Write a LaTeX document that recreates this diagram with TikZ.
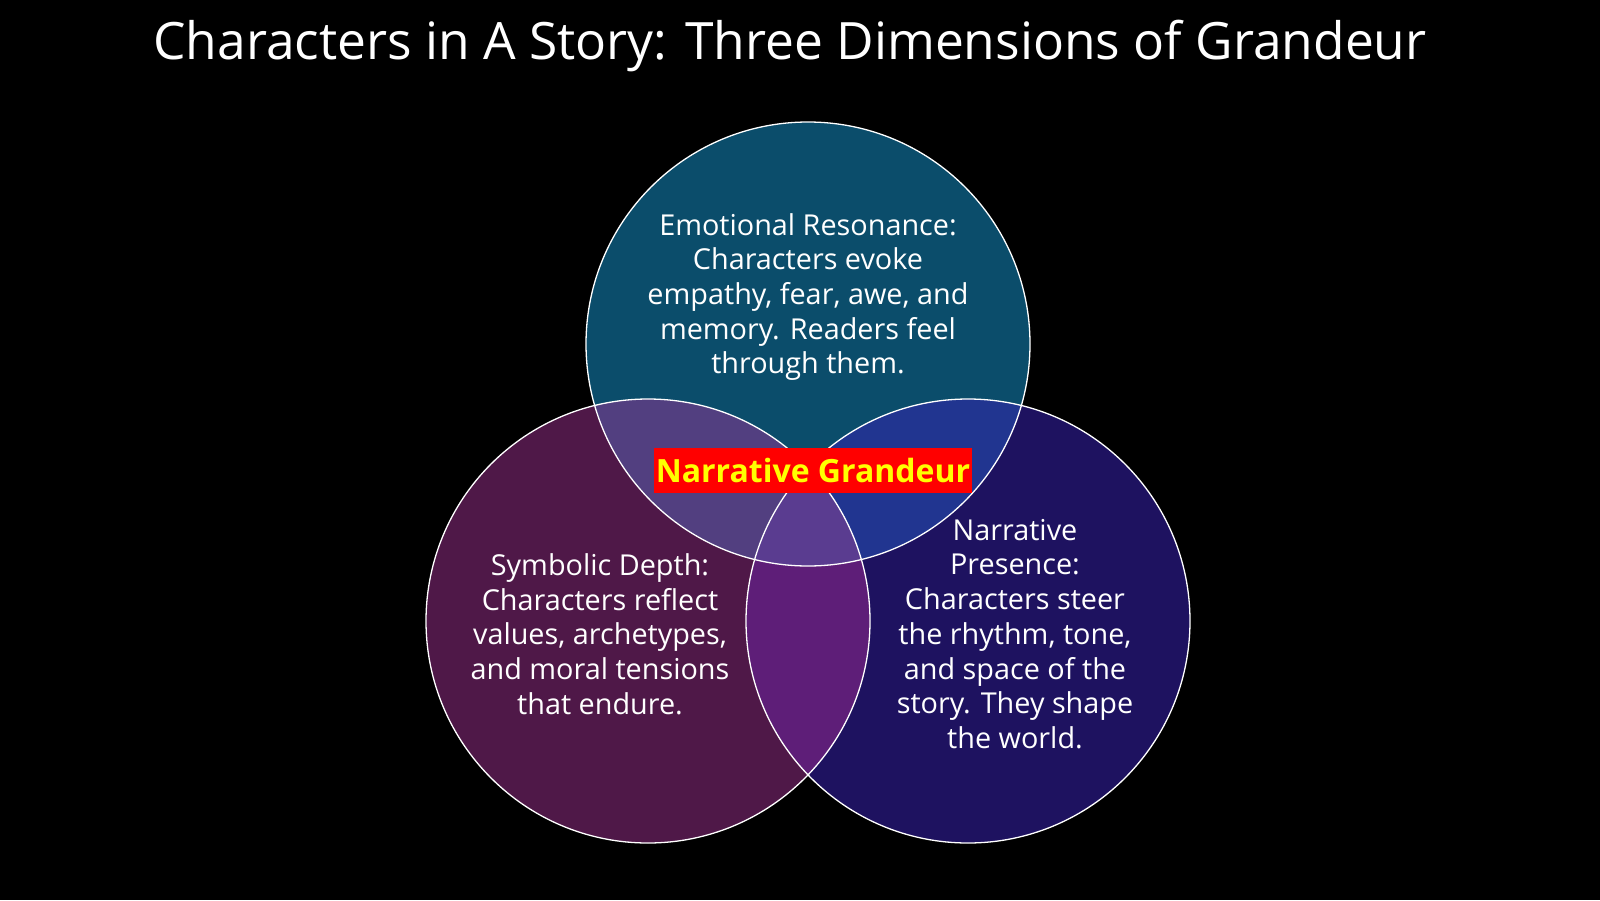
\documentclass[tikz,border=0pt]{standalone}
\usepackage{fontspec}
\setmainfont{Open Sans}
\definecolor{ctop}{HTML}{0B4D6B}
\definecolor{cleft}{HTML}{4F1848}
\definecolor{cright}{HTML}{1E1260}
\definecolor{ctl}{HTML}{523F80}
\definecolor{ctr}{HTML}{213590}
\definecolor{clr}{HTML}{5E1E78}
\definecolor{cmid}{HTML}{5A3C90}
\definecolor{lbl}{HTML}{FF0000}
\definecolor{lbltext}{HTML}{FFFF00}
\begin{document}
\begin{tikzpicture}[x=1pt,y=-1pt,
  body/.style={text=white,align=center,font=\fontsize{28.8}{34.7}\selectfont}]
\fill[black] (0,0) rectangle (1600,900);
\useasboundingbox (0,0) rectangle (1600,900);
\def\R{222}
\coordinate (T) at (808,344);
\coordinate (L) at (648,621);
\coordinate (Rt) at (968,621);
\fill[ctop] (T) circle (\R);
\fill[cleft] (L) circle (\R);
\fill[cright] (Rt) circle (\R);
\begin{scope}\clip (T) circle (\R); \fill[ctl] (L) circle (\R);\end{scope}
\begin{scope}\clip (T) circle (\R); \fill[ctr] (Rt) circle (\R);\end{scope}
\begin{scope}\clip (L) circle (\R); \fill[clr] (Rt) circle (\R);\end{scope}
\begin{scope}\clip (L) circle (\R); \clip (Rt) circle (\R); \fill[cmid] (T) circle (\R);\end{scope}
\draw[white,line width=1.3pt] (T) circle (\R) (L) circle (\R) (Rt) circle (\R);
\node[font=\fontsize{51.5}{60}\selectfont,text=white] (title) at (790,46) {Characters in A Story: Three Dimensions of Grandeur};
\node[body] (tt) at (808,297) {Emotional Resonance:\\Characters evoke\\empathy, fear, awe, and\\memory. Readers feel\\through them.};
\node[body] (lt) at (600,634) {Symbolic Depth:\\Characters reflect\\values, archetypes,\\and moral tensions\\that endure.};
\node[body] (rt) at (1015,634) {Narrative\\Presence:\\Characters steer\\the rhythm, tone,\\and space of the\\story. They shape\\the world.};
\node[fill=lbl,text=lbltext,font=\bfseries\fontsize{32}{38}\selectfont,minimum width=318pt,minimum height=45pt,inner sep=1pt] (lab) at (813,470) {Narrative Grandeur};
\end{tikzpicture}
\end{document}
